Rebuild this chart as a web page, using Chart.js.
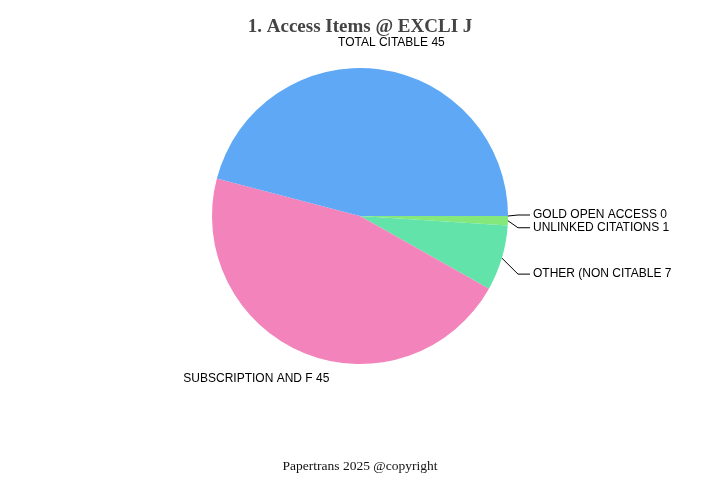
<!DOCTYPE html>
<html>
<head>
<meta charset="utf-8">
<script src="https://cdn.jsdelivr.net/npm/chart.js@4/dist/chart.umd.min.js"></script>
<style>
  html, body { margin: 0; padding: 0; background: #fff; }
  #wrap { width: 720px; height: 480px; position: relative; }
</style>
</head>
<body>
<div id="wrap"><canvas id="pie-chart"></canvas></div>
<script>
// data (drawn clockwise from 3 o'clock)
const categories = ['GOLD OPEN ACCESS', 'UNLINKED CITATIONS', 'OTHER (NON CITABLE', 'SUBSCRIPTION AND F', 'TOTAL CITABLE'];
const counts = [0, 1, 7, 45, 45];
const sliceColors = ['#f2c94c', '#85e87a', '#62e3a9', '#f283bb', '#5fa8f5'];

const chartTitle = '1. Access Items @ EXCLI J';
const footerText = 'Papertrans 2025 @copyright';

// small nudges so labels sit where the original put them
const labelNudge = {
  'TOTAL CITABLE': { dx: 9, dy: 0 },
  'SUBSCRIPTION AND F': { dx: -38, dy: 0 },
  'GOLD OPEN ACCESS': { dy: -1 },
  'UNLINKED CITATIONS': { dy: 7 },
  'OTHER (NON CITABLE': { dy: 16 }
};

// draws title, footer and the outside labels with leader lines
const pieLabels = {
  id: 'pieLabels',
  afterDraw(chart) {
    const ctx = chart.ctx;
    const W = chart.width;
    ctx.save();

    ctx.fillStyle = '#444';
    ctx.font = 'bold 19px "Liberation Serif", "Times New Roman", serif';
    ctx.textAlign = 'center';
    ctx.textBaseline = 'alphabetic';
    ctx.fillText(chartTitle, W / 2, 32);

    ctx.fillStyle = '#111';
    ctx.font = '13.5px "Liberation Serif", "Times New Roman", serif';
    ctx.fillText(footerText, W / 2, 470);

    ctx.font = '12px "Liberation Sans", Arial, sans-serif';
    ctx.textBaseline = 'middle';
    ctx.strokeStyle = '#000';
    ctx.lineWidth = 1;

    const meta = chart.getDatasetMeta(0);
    meta.data.forEach(function (arc, i) {
      const p = arc.getProps(['x', 'y', 'startAngle', 'endAngle', 'outerRadius'], true);
      const mid = (p.startAngle + p.endAngle) / 2;
      const r = p.outerRadius;
      const name = categories[i];
      const text = name + ' ' + counts[i];
      const nudge = labelNudge[name] || {};
      ctx.fillStyle = '#000';

      if (counts[i] < 10) {
        // small slice on the right: elbow line then text
        const ex = p.x + Math.cos(mid) * r;
        const ey = p.y + Math.sin(mid) * r;
        const ly = ey + (nudge.dy || 0);
        ctx.beginPath();
        ctx.moveTo(ex, ey);
        ctx.lineTo(p.x + r + 10, ly);
        ctx.lineTo(p.x + r + 22, ly);
        ctx.stroke();
        ctx.textAlign = 'left';
        ctx.fillText(text, p.x + r + 25, ly);
      } else {
        const lr = r + 27;
        const tx = p.x + Math.cos(mid) * lr + (nudge.dx || 0);
        const ty = p.y + Math.sin(mid) * lr + (nudge.dy || 0);
        ctx.textAlign = 'center';
        ctx.fillText(text, tx, ty);
      }
    });
    ctx.restore();
  }
};

new Chart(document.getElementById('pie-chart'), {
  type: 'pie',
  data: {
    labels: categories,
    datasets: [{
      data: counts,
      backgroundColor: sliceColors,
      borderWidth: 0
    }]
  },
  options: {
    responsive: true,
    maintainAspectRatio: false,
    animation: false,
    rotation: 90,
    layout: { padding: { top: 68, bottom: 116, left: 100, right: 100 } },
    plugins: {
      legend: { display: false },
      title: { display: false },
      tooltip: { enabled: false }
    }
  },
  plugins: [pieLabels]
});
</script>
</body>
</html>
